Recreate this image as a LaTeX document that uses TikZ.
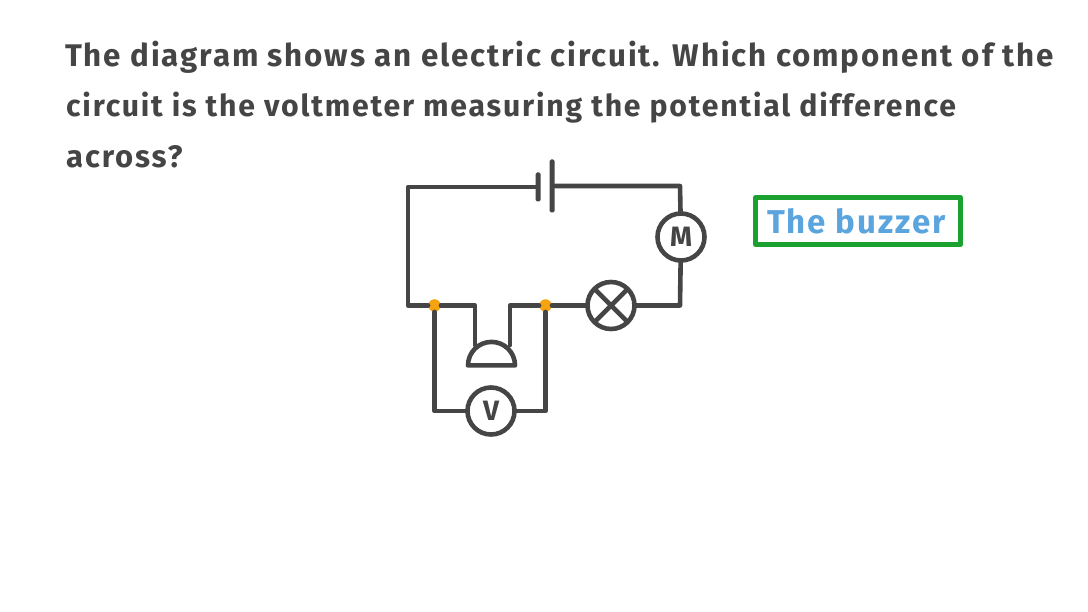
\documentclass[tikz,border=0pt]{standalone}
\usepackage{fontspec}
\setmainfont[LetterSpace=6]{Fira Sans}
\usetikzlibrary{shapes.geometric}
\definecolor{inkgray}{HTML}{454545}
\definecolor{junctionorange}{HTML}{F5A30F}
\definecolor{answerblue}{HTML}{5BA5DF}
\definecolor{answergreen}{HTML}{1BA12F}

\begin{document}
\begin{tikzpicture}[
    x = 1pt, y = -1pt,
    wire/.style = {draw = inkgray, line width = 4.6pt, line join = round, line cap = round},
    cross/.style = {draw = inkgray, line width = 4.6pt},
    meter/.style = {circle, draw = inkgray, line width = 4.6pt, outer sep = 0pt, minimum size = 47pt, inner sep = 0pt, text = inkgray, font = \fontsize{28}{30}\selectfont\bfseries},
    plate/.style = {fill = inkgray, rounded corners = 1.5pt, inner sep = 0pt, minimum width = 5pt},
    junction/.style = {circle, fill = junctionorange, minimum size = 12.5pt, inner sep = 0pt},
    question/.style = {anchor = base west, inner sep = 0pt, text = inkgray}
]
\useasboundingbox (0,0) rectangle (1088,612);

\node [question, font = \fontsize{31.3}{36}\selectfont\bfseries] (line one) at (65,67) {The diagram shows an electric circuit. Which component of the};
\node [question, font = \fontsize{30.2}{36}\selectfont\bfseries] (line two) at (66,117) {circuit is the voltmeter measuring the potential difference};
\node [question, font = \fontsize{31}{36}\selectfont\bfseries] (line three) at (66,168) {across?};

\node [plate, minimum height = 29pt] (short plate) at (538,187) {};
\node [plate, minimum height = 53pt] (long plate) at (552,186) {};
\node [meter] (motor) at (681,237) {M};
\node [meter] (lamp) at (611,305.5) {};
\node [meter] (voltmeter) at (491,411) {V};
\node [junction] (left junction) at (434.5,305.5) {};
\node [junction] (right junction) at (545.5,305.5) {};
\node [semicircle, draw = inkgray, line width = 4.6pt, line join = round, minimum width = 47pt, inner sep = 0pt] (buzzer) at (491.5,356) {};

\coordinate (top left) at (408,187);
\coordinate (bottom left) at (408,305.5);
\coordinate (top right) at (680,186);
\coordinate (bottom right) at (680,305.5);
\coordinate (buzzer in) at (475,305.5);
\coordinate (buzzer out) at (510,305.5);
\coordinate (buzzer in end) at (475,345);
\coordinate (buzzer out end) at (510,345);

\draw [wire] (short plate) -- (top left) -- (bottom left) -- (left junction);
\draw [wire] (long plate) -- (top right) -- (motor);
\draw [wire] (motor) -- (bottom right) -- (lamp);
\draw [wire] (lamp) -- (right junction);
\draw [wire] (left junction) -- (buzzer in) -- (buzzer in end);
\draw [wire] (right junction) -- (buzzer out) -- (buzzer out end);
\draw [wire] (left junction) |- (voltmeter);
\draw [wire] (right junction) |- (voltmeter);
\draw [cross] (lamp.45) -- (lamp.225);
\draw [cross] (lamp.135) -- (lamp.315);

\node [draw = answergreen, line width = 4.6pt, line join = round, minimum width = 205pt, minimum height = 47pt, inner sep = 0pt, text = answerblue, font = \fontsize{33}{36}\selectfont\bfseries] (answer) at (858,221) {\raisebox{-3pt}{The buzzer}\hspace*{3pt}};
\end{tikzpicture}
\end{document}
